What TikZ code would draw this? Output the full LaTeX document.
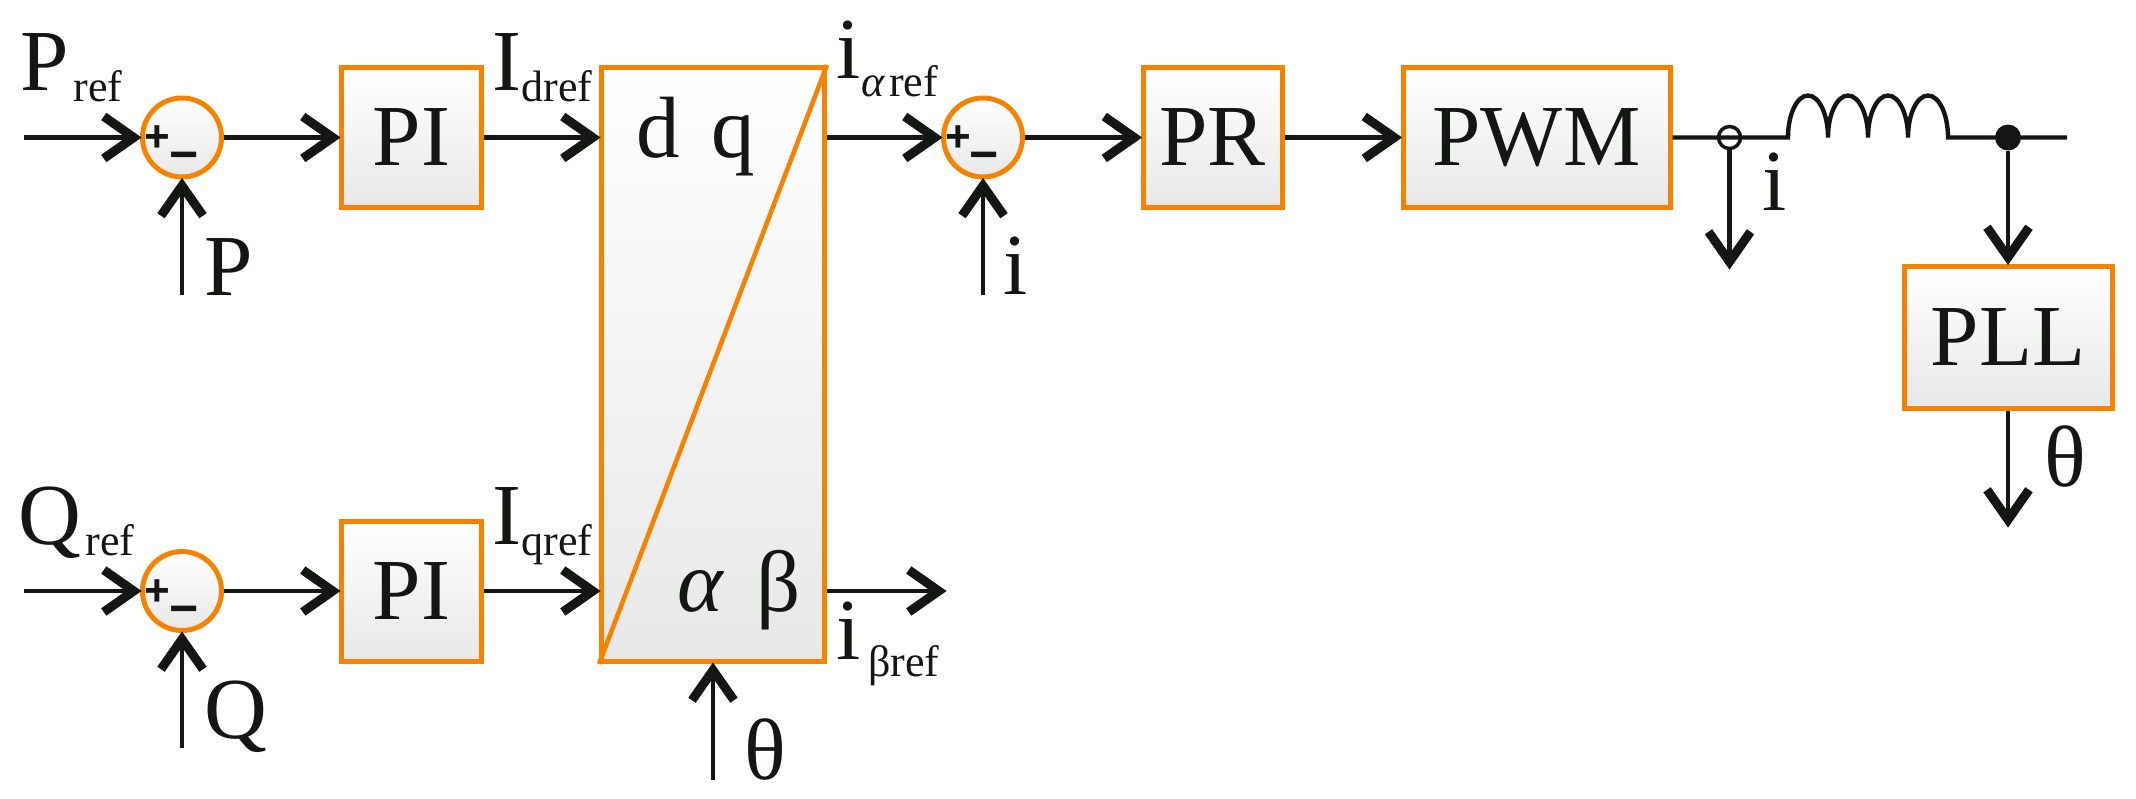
\documentclass[tikz,border=0pt]{standalone}
\usepackage{fontspec}
\setmainfont{Liberation Serif}
\newfontfamily\signfont{Liberation Sans}
\usetikzlibrary{arrows.meta}
\definecolor{blockline}{HTML}{F58200}
\definecolor{wirecol}{HTML}{141614}
\tikzset{
    x=0.5pt, y=-0.5pt,
    block/.style={draw=blockline, line width=2.5pt, top color=white, bottom color=black!9, inner sep=0pt, text=wirecol, font=\fontsize{43.5}{50}\selectfont},
    sumnode/.style={circle, draw=blockline, line width=2.5pt, top color=white, bottom color=black!9, inner sep=0pt, minimum size=39.5pt},
    bigtext/.style={inner sep=0pt, anchor=base west, text=wirecol, font=\fontsize{43.5}{50}\selectfont},
    subtext/.style={inner sep=0pt, anchor=base west, text=wirecol, font=\fontsize{22}{26}\selectfont},
    signtext/.style={inner sep=0pt, text=wirecol, font=\signfont\bfseries\fontsize{22}{26}\selectfont},
    minustext/.style={signtext, font=\signfont\bfseries\fontsize{25}{26}\selectfont},
    wire/.style={draw=wirecol, line width=2.2pt},
    sig/.style={wire, shorten >=-0.8pt, -{Straight Barb[length=15pt, width=21pt, line width=4.5pt]}}
}
\begin{document}
\begin{tikzpicture}
    \useasboundingbox (0,0) rectangle (2136,798);
    % blocks
    \node[sumnode] (sumP) at (182,137.5) {};
    \node[sumnode] (sumQ) at (182,591) {};
    \node[sumnode] (sumI) at (983,137.5) {};
    \node[block, minimum width=70pt, minimum height=70pt] (piP) at (411.5,137.5) {PI};
    \node[block, minimum width=70pt, minimum height=70pt] (piQ) at (411.5,591) {PI};
    \node[block, minimum width=111.5pt, minimum height=297pt] (dq) at (713,364.5) {};
    \node[block, minimum width=69.5pt, minimum height=70pt] (pr) at (1212.5,137.5) {PR};
    \node[block, minimum width=133.5pt, minimum height=70pt] (pwm) at (1536.5,137.5) {PWM};
    \node[block, minimum width=104pt, minimum height=71pt] (pll) at (2008,337) {PLL};
    \draw[blockline, line width=2.3pt] (dq.south west) -- (dq.north east);
    % signs in the summing nodes
    \node[signtext] (plusP) at (157,139) {+};
    \node[minustext] (minusP) at (184,162) {−};
    \node[signtext] (plusQ) at (157,592.5) {+};
    \node[minustext] (minusQ) at (184,615.5) {−};
    \node[signtext] (plusI) at (958,139) {+};
    \node[minustext] (minusI) at (984,162) {−};
    % free ends
    \coordinate (inP) at (24,137.5);
    \coordinate (inQ) at (24,591);
    \coordinate (fbP) at (182,295);
    \coordinate (fbQ) at (182,748);
    \coordinate (fbI) at (983,295);
    \coordinate (fbT) at (713,780);
    \coordinate (outB) at (945,591);
    \coordinate (outI) at (1729.5,268);
    \coordinate (outT) at (2008,526);
    \coordinate (coilA) at (1788,137.5);
    \coordinate (coilB) at (1949,137.5);
    \coordinate (wireEnd) at (2067,137.5);
    \node[circle, draw=wirecol, line width=1.75pt, inner sep=0pt, minimum size=11pt] (tapI) at (1729.5,137.5) {};
    \node[circle, fill=wirecol, inner sep=0pt, minimum size=13pt] (tapV) at (2008,137.5) {};
    % signal paths
    \draw[sig] (inP) -- (sumP.west);
    \draw[sig] (fbP) -- (sumP.south);
    \draw[sig] (sumP.east) -- (piP.west);
    \draw[sig] (piP.east) -- (piP -| dq.west);
    \draw[sig] (inQ) -- (sumQ.west);
    \draw[sig] (fbQ) -- (sumQ.south);
    \draw[sig] (sumQ.east) -- (piQ.west);
    \draw[sig] (piQ.east) -- (piQ -| dq.west);
    \draw[sig] (fbT) -- (dq.south);
    \draw[sig] (sumI -| dq.east) -- (sumI.west);
    \draw[sig] (fbI) -- (sumI.south);
    \draw[sig] (sumI.east) -- (pr.west);
    \draw[sig] (pr.east) -- (pwm.west);
    \draw[sig] (outB -| dq.east) -- (outB);
    \draw[wire] (pwm.east) -- (coilA)
        arc[start angle=180, end angle=0, x radius=10pt, y radius=21pt]
        arc[start angle=180, end angle=0, x radius=10pt, y radius=21pt]
        arc[start angle=180, end angle=0, x radius=10pt, y radius=21pt]
        arc[start angle=180, end angle=0, x radius=10pt, y radius=21pt]
        -- (wireEnd);
    \draw[sig] (tapI.south) -- (outI);
    \draw[sig] (tapV.south) -- (pll.north);
    \draw[sig] (pll.south) -- (outT);
    % labels
    \node[bigtext] (labP) at (20,90) {P};
    \node[subtext] (labPs) at (73,101.7) {ref};
    \node[bigtext] (labPb) at (204,295) {P};
    \node[bigtext] (labId) at (492,90) {I};
    \node[subtext] (labIds) at (521,101.7) {dref};
    \node[bigtext] (labQ) at (18,544) {Q};
    \node[subtext] (labQs) at (85,555) {ref};
    \node[bigtext] (labQb) at (204,738) {Q};
    \node[bigtext] (labIq) at (492,544) {I};
    \node[subtext] (labIqs) at (521,555) {qref};
    \node[bigtext] (labdq) at (636,157) {d\hspace{5pt} q};
    \node[bigtext] (labab) at (677,611) {\textit{α}\hspace{5pt} β};
    \node[bigtext] (labia) at (836,78) {i};
    \node[subtext] (labias) at (861,96) {\textit{α}\hspace{2pt}ref};
    \node[bigtext] (labib) at (836,659) {i};
    \node[subtext] (labibs) at (868,676.7) {βref};
    \node[bigtext] (labT) at (744,779) {θ};
    \node[bigtext] (labi) at (1003,294) {i};
    \node[bigtext] (labiw) at (1762,210) {i};
    \node[bigtext] (labTp) at (2044,486) {θ};
\end{tikzpicture}
\end{document}
